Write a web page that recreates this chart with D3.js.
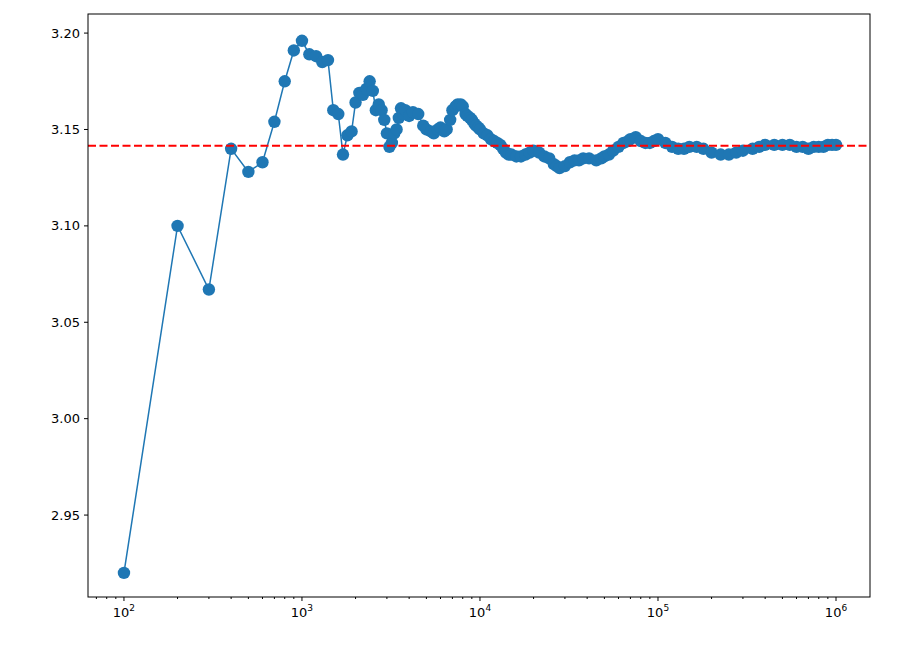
<!DOCTYPE html>
<html><head><meta charset="utf-8">
<script src="https://cdn.jsdelivr.net/npm/d3@7"></script>
<style>body{margin:0;background:#fff}text{font-family:"DejaVu Sans";}</style>
</head><body><svg id="c" width="920" height="657"></svg>
<script>
// sample sizes and running estimates
const sizes = [100,200,300,400,500,600,700,800,900,1000,1100,1200,1300,1400,1500,1600,1700,1800,1900,2000,
  2100,2200,2300,2400,2500,2600,2700,2800,2900,3000,3100,3200,3300,3400,3500,3600,3700,3800,4000,4200,4500,4800,
  5000,5300,5500,5800,6000,6300,6500,6800,7000,7300,7500,7800,8000,8300,8500,8800,9000,9300,9500,9800,10000,10500,11000,11500,12000,12500,13000,13500,14000,14500,15000,16000,17000,18000,19000,20000,21500,23000,24500,26000,
  27000,28000,30000,32000,34000,36000,38000,41000,45000,48000,50000,53000,56000,60000,64000,68000,70000,75000,80000,85000,90000,95000,100000,110000,120000,130000,140000,150000,165000,180000,200000,225000,250000,275000,300000,340000,370000,400000,450000,500000,550000,600000,650000,700000,750000,800000,
  850000,900000,950000,1000000];
const estimates = [2.920,3.100,3.067,3.140,3.128,3.133,3.154,3.175,3.191,3.196,3.189,3.188,3.185,3.186,3.160,3.158,3.137,3.147,3.149,3.164,
  3.169,3.168,3.171,3.175,3.170,3.160,3.163,3.160,3.155,3.148,3.141,3.143,3.148,3.150,3.156,3.161,3.158,3.160,3.157,3.159,3.158,3.152,
  3.150,3.149,3.148,3.150,3.151,3.149,3.150,3.155,3.160,3.162,3.163,3.163,3.162,3.158,3.157,3.156,3.155,3.153,3.152,3.151,3.150,3.148,3.147,3.145,3.144,3.143,3.142,3.140,3.138,3.137,3.137,3.136,3.136,3.137,3.138,3.139,3.138,3.136,3.135,3.132,
  3.131,3.130,3.131,3.133,3.134,3.134,3.135,3.135,3.134,3.135,3.136,3.137,3.139,3.141,3.143,3.144,3.145,3.146,3.144,3.143,3.143,3.144,3.145,3.143,3.141,3.140,3.140,3.141,3.141,3.140,3.138,3.137,3.137,3.138,3.139,3.140,3.141,3.142,3.142,3.142,3.142,3.141,3.141,3.140,3.141,3.141,
  3.141,3.142,3.142,3.142];
const yTicks = [2.95,3.00,3.05,3.10,3.15,3.20];
const xTicks = [2,3,4,5,6];

const svg = d3.select("#c");
const L = 88, R = 870, T = 14, B = 597;
let x = d3.scaleLog().domain([Math.pow(10,1.798), Math.pow(10,6.191)]).range([L,R]);
let y = d3.scaleLinear().domain([2.9075,3.2099]).range([B,T]);

svg.append("clipPath").attr("id","cp").append("rect")
  .attr("x",L).attr("y",T).attr("width",R-L).attr("height",B-T);

let g = svg.append("g").attr("clip-path","url(#cp)");
let pts = sizes.map((n,i) => [n, estimates[i]]);
g.append("path").datum(pts)
  .attr("d", d3.line().x(d => x(d[0])).y(d => y(d[1])))
  .attr("fill","none").attr("stroke","#1f77b4").attr("stroke-width",1.5);
g.selectAll("circle").data(pts).join("circle")
  .attr("cx", d => x(d[0])).attr("cy", d => y(d[1])).attr("r",6.2).attr("fill","#1f77b4");
g.append("line").attr("x1",L).attr("x2",R).attr("y1",y(Math.PI)).attr("y2",y(Math.PI))
  .attr("stroke","#ff0000").attr("stroke-width",2).attr("stroke-dasharray","8,3.5");

// y axis
yTicks.forEach(v => {
  svg.append("line").attr("x1",L-4).attr("x2",L).attr("y1",y(v)).attr("y2",y(v)).attr("stroke","#000");
  svg.append("text").attr("x",L-8).attr("y",y(v)+4.5).attr("text-anchor","end")
    .attr("font-size",13).text(v.toFixed(2));
});
// x axis, major and minor ticks
for (let e = 1; e <= 6; e++) {
  for (let m = 1; m <= 9; m++) {
    let v = m * Math.pow(10,e);
    let px = x(v);
    if (px < L || px > R) continue;
    svg.append("line").attr("x1",px).attr("x2",px).attr("y1",B).attr("y2",B+(m==1?4:2)).attr("stroke","#000");
  }
}
xTicks.forEach(e => {
  let t = svg.append("text").attr("x",x(Math.pow(10,e))).attr("y",B+20).attr("text-anchor","middle").attr("font-size",13);
  t.append("tspan").text("10");
  t.append("tspan").attr("dy",-6).attr("font-size",9).text(e);
});
svg.append("rect").attr("x",L).attr("y",T).attr("width",R-L).attr("height",B-T)
  .attr("fill","none").attr("stroke","#000");
</script></body></html>
